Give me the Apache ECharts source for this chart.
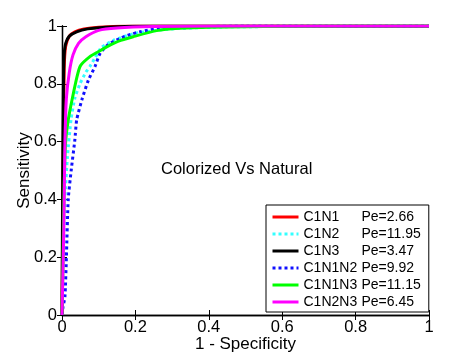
<!DOCTYPE html>
<html>
<head>
<meta charset="utf-8">
<script src="https://cdn.jsdelivr.net/npm/echarts@6/dist/echarts.min.js"></script>
<style>
html,body{margin:0;padding:0;background:#fff;}
#c{width:474px;height:355px;}
</style>
</head>
<body>
<div id="c"></div>
<script>
// Series names and Pe values
var seriesNames = ['C1N1', 'C1N2', 'C1N3', 'C1N1N2', 'C1N1N3', 'C1N2N3'];
var peValues = ['2.66', '11.95', '3.47', '9.92', '11.15', '6.45'];

// ROC curves: 1 - Specificity (fpr) and Sensitivity (tpr)
var c1n1Fpr = [0, 0.003, 0.006, 0.01, 0.02, 0.035, 0.06, 0.1, 0.2, 1];
var c1n1Tpr = [0, 0.5, 0.85, 0.93, 0.965, 0.98, 0.99, 0.996, 1, 1];

var c1n2Fpr = [0, 0.004, 0.008, 0.015, 0.025, 0.035, 0.049, 0.065, 0.076, 0.09, 0.107, 0.14, 0.2, 0.3, 0.45, 1];
var c1n2Tpr = [0, 0.2, 0.4, 0.55, 0.68, 0.75, 0.80, 0.84, 0.86, 0.89, 0.925, 0.95, 0.975, 0.99, 0.997, 1];

var c1n3Fpr = [0, 0.002, 0.004, 0.006, 0.01, 0.02, 0.04, 0.07, 0.12, 0.25, 1];
var c1n3Tpr = [0, 0.5, 0.8, 0.9, 0.94, 0.965, 0.98, 0.99, 0.996, 1, 1];

var c1n1n2Fpr = [0, 0.003, 0.008, 0.012, 0.017, 0.025, 0.035, 0.04, 0.054, 0.072, 0.09, 0.104, 0.125, 0.149, 0.18, 0.213, 0.267, 0.35, 0.5, 1];
var c1n1n2Tpr = [0, 0.03, 0.063, 0.2, 0.4, 0.5, 0.606, 0.675, 0.744, 0.813, 0.86, 0.906, 0.935, 0.952, 0.968, 0.98, 0.992, 0.997, 1, 1];

var c1n1n3Fpr = [0, 0.003, 0.006, 0.01, 0.017, 0.025, 0.031, 0.04, 0.05, 0.076, 0.1, 0.122, 0.16, 0.194, 0.258, 0.32, 0.4, 0.6, 1];
var c1n1n3Tpr = [0, 0.2, 0.45, 0.6, 0.675, 0.73, 0.767, 0.82, 0.862, 0.894, 0.912, 0.928, 0.95, 0.963, 0.984, 0.992, 0.996, 0.999, 1];

var c1n2n3Fpr = [0, 0.005, 0.008, 0.012, 0.02, 0.03, 0.045, 0.065, 0.1, 0.15, 0.25, 0.4, 1];
var c1n2n3Tpr = [0, 0.3, 0.6, 0.75, 0.84, 0.9, 0.94, 0.963, 0.985, 0.993, 0.998, 1, 1];

var fprList = [c1n1Fpr, c1n2Fpr, c1n3Fpr, c1n1n2Fpr, c1n1n3Fpr, c1n2n3Fpr];
var tprList = [c1n1Tpr, c1n2Tpr, c1n3Tpr, c1n1n2Tpr, c1n1n3Tpr, c1n2n3Tpr];

var colors = ['#ff0000', '#33ffff', '#000000', '#1010ff', '#00ff00', '#ff00ff'];
var lineTypes = ['solid', 'dotted', 'solid', 'dotted', 'solid', 'solid'];

function zip(a, b) {
  var out = [];
  for (var i = 0; i < a.length; i++) out.push([a[i], b[i]]);
  return out;
}

var series = seriesNames.map(function (n, i) {
  return {
    name: n,
    type: 'line',
    data: zip(fprList[i], tprList[i]),
    showSymbol: false,
    symbol: 'none',
    smooth: 0.2,
    color: colors[i],
    lineStyle: { color: colors[i], width: 3, type: lineTypes[i] },
    itemStyle: { color: colors[i] },
    z: 2 + i,
    animation: false
  };
});

var peMap = {};
seriesNames.forEach(function (n, i) { peMap[n] = peValues[i]; });

var font = 'Liberation Sans, Arial, sans-serif';
var axisLineStyle = { color: '#000', width: 1.3 };
var tickStyle = { show: true, inside: true, length: 5, lineStyle: { color: '#000', width: 1 } };

var chart = echarts.init(document.getElementById('c'));
chart.setOption({
  backgroundColor: '#fff',
  animation: false,
  grid: { left: 62, top: 26, width: 367, height: 289, containLabel: false, outerBoundsMode: 'none' },
  xAxis: [{
    type: 'value', min: 0, max: 1, interval: 0.2, position: 'bottom',
    name: '1 - Specificity', nameLocation: 'middle', nameGap: 21,
    nameMoveOverlap: false,
    nameTextStyle: { fontFamily: font, fontSize: 17, color: '#000' },
    axisLine: { show: true, lineStyle: axisLineStyle },
    axisTick: tickStyle,
    axisLabel: { fontFamily: font, fontSize: 16.5, color: '#000', margin: 4,
      formatter: function (v) { return String(Math.round(v * 10) / 10); } },
    splitLine: { show: false }
  }, {
    type: 'value', min: 0, max: 1, interval: 0.2, position: 'top',
    axisLine: { show: true, lineStyle: axisLineStyle },
    axisTick: tickStyle,
    axisLabel: { show: false }, splitLine: { show: false }
  }],
  yAxis: [{
    type: 'value', min: 0, max: 1, interval: 0.2, position: 'left',
    name: 'Sensitivity', nameLocation: 'middle', nameGap: 29, nameRotate: 90,
    nameMoveOverlap: false,
    nameTextStyle: { fontFamily: font, fontSize: 17, color: '#000' },
    axisLine: { show: true, lineStyle: axisLineStyle },
    axisTick: tickStyle,
    axisLabel: { fontFamily: font, fontSize: 16.5, color: '#000', margin: 5,
      formatter: function (v) { return String(Math.round(v * 10) / 10); } },
    splitLine: { show: false }
  }, {
    type: 'value', min: 0, max: 1, interval: 0.2, position: 'right',
    axisLine: { show: true, lineStyle: axisLineStyle },
    axisTick: tickStyle,
    axisLabel: { show: false }, splitLine: { show: false }
  }],
  legend: {
    orient: 'vertical', left: 266, top: 205,
    padding: [5, 8, 3, 5],
    itemWidth: 26, itemHeight: 14, itemGap: 3,
    backgroundColor: '#fff', borderColor: '#000', borderWidth: 1,
    data: seriesNames,
    itemStyle: { opacity: 0 },
    lineStyle: { width: 3, opacity: 1 },
    formatter: function (n) { return '{n|' + n + '}{p|Pe=' + peMap[n] + '}'; },
    textStyle: {
      fontFamily: font, fontSize: 14, color: '#000',
      rich: {
        n: { fontFamily: font, fontSize: 14, color: '#000', width: 58 },
        p: { fontFamily: font, fontSize: 14, color: '#000' }
      }
    },
    z: 20
  },
  graphic: [{
    type: 'text', left: 161, top: 161, z: 10,
    style: { text: 'Colorized Vs Natural', font: '16.5px ' + font, fill: '#000' }
  }],
  series: series
});
</script>
</body>
</html>
